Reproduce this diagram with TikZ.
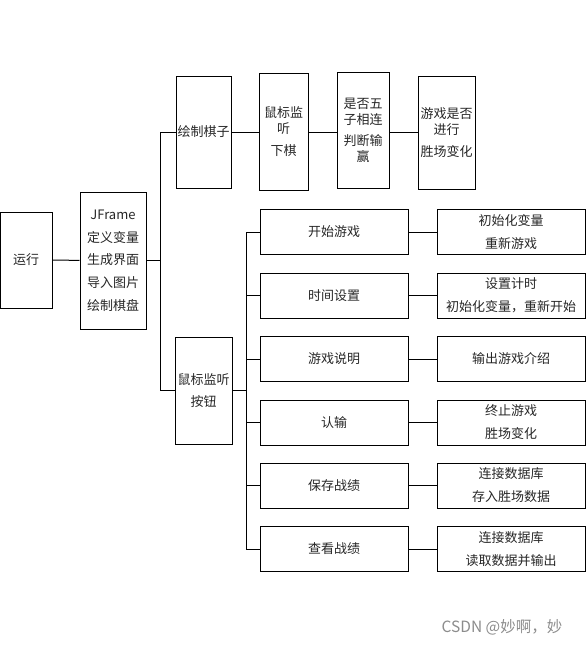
\documentclass[tikz,border=0pt]{standalone}
\usepackage{fontspec}
\newfontfamily\cjk{Noto Sans CJK SC}
\begin{document}
\begin{tikzpicture}[x=1pt,y=-1pt,
        every node/.style={font=\cjk\fontsize{13}{16}\selectfont, text=black!85},
        box/.style={draw, line width=1pt, inner sep=0pt, align=center},
        item/.style={box, minimum width=148, minimum height=45, font=\cjk\fontsize{13}{23}\selectfont},
        link/.style={draw, line width=1pt}]
        \useasboundingbox (0,0) rectangle (586,645);

        \begin{scope}
            \node[box, minimum width=52, minimum height=96] (run) at (26,260) {运行};
            \node[box, minimum width=66, minimum height=137, font=\cjk\fontsize{13}{22.7}\selectfont] (frame) at (113,260.5)
                {JFrame\\定义变量\\生成界面\\导入图片\\绘制棋盘};

            \node[box, minimum width=55, minimum height=112] (chess) at (203.5,132) {绘制棋子};
            \node[box, minimum width=49, minimum height=117] (down) at (283.5,131.5) {鼠标监\\听\\[6pt]下棋};
            \node[box, minimum width=52, minimum height=116] (judge) at (363,130) {是否五\\子相连\\[5pt]判断输\\赢};
            \node[box, minimum width=57, minimum height=113] (state) at (446.5,132.5) {游戏是否\\进行\\[6pt]胜场变化};

            \node[box, minimum width=57, minimum height=107, font=\cjk\fontsize{13}{22}\selectfont] (mouse) at (203.5,390.5) {鼠标监听\\按钮};

            \node[item] (start) at (334,232) {开始游戏};
            \node[item] (timer) at (334,295.5) {时间设置};
            \node[item] (help) at (334,359) {游戏说明};
            \node[item] (lose) at (334,422.5) {认输};
            \node[item] (save) at (334,485.5) {保存战绩};
            \node[item] (view) at (334,549) {查看战绩};

            \node[item] (startR) at (511,232) {初始化变量\\重新游戏};
            \node[item] (timerR) at (511,295.5) {设置计时\\初始化变量，重新开始};
            \node[item] (helpR) at (511,359) {输出游戏介绍};
            \node[item] (loseR) at (511,422.5) {终止游戏\\胜场变化};
            \node[item] (saveR) at (511,485.5) {连接数据库\\存入胜场数据};
            \node[item] (viewR) at (511,549) {连接数据库\\读取数据并输出};
        \end{scope}

        % trunks
        \coordinate (t1) at (160,132);
        \coordinate (t2) at (160,390.5);
        \coordinate (r1) at (246,232);
        \coordinate (r2) at (246,549);

        \begin{scope}[every edge/.style={link}]
            \path [-] (run) edge (frame);
            \path [-] (frame.east) edge (frame.east -| t1);
            \path [-] (t1) edge (t2);
            \path [-] (t1) edge (chess.west);
            \path [-] (t2) edge (mouse.west);
            \path [-] (chess.east) edge (down.west |- chess.east);
            \path [-] (down.east |- chess.east) edge (judge.west |- chess.east);
            \path [-] (judge.east |- chess.east) edge (state.west |- chess.east);

            \path [-] (mouse.east) edge (mouse.east -| r1);
            \path [-] (r1) edge (r2);
            \path [-] (start.west -| r1) edge (start.west);
            \path [-] (timer.west -| r1) edge (timer.west);
            \path [-] (help.west -| r1) edge (help.west);
            \path [-] (lose.west -| r1) edge (lose.west);
            \path [-] (save.west -| r1) edge (save.west);
            \path [-] (view.west -| r1) edge (view.west);

            \path [-] (start) edge (startR);
            \path [-] (timer) edge (timerR);
            \path [-] (help) edge (helpR);
            \path [-] (lose) edge (loseR);
            \path [-] (save) edge (saveR);
            \path [-] (view) edge (viewR);
        \end{scope}

        \node[font=\cjk\fontsize{15.5}{18}\selectfont, text=black!45] (mark) at (502,627) {CSDN @妙啊，妙};
    \end{tikzpicture}
\end{document}
